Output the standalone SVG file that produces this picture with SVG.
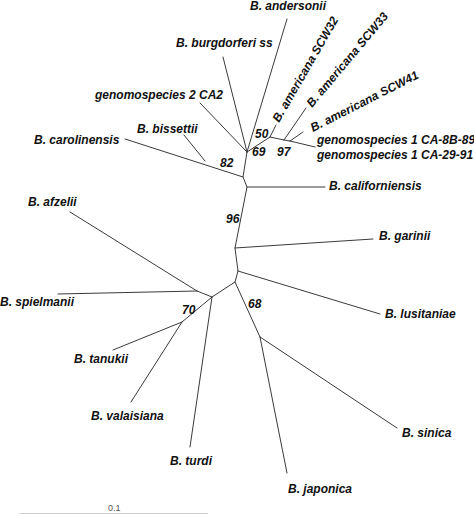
<svg xmlns="http://www.w3.org/2000/svg" width="474" height="515" viewBox="0 0 474 515">
<style>
.e{stroke:#3a3a3a;stroke-width:1;fill:none;stroke-linecap:round;stroke-linejoin:round}
.t{font-family:"Liberation Sans",Arial,sans-serif;font-size:12px;font-weight:bold;font-style:italic;fill:#111}
.b{font-family:"Liberation Sans",Arial,sans-serif;font-size:12px;font-weight:bold;font-style:italic;fill:#111}
.s{font-family:"Liberation Sans",Arial,sans-serif;font-size:9px;fill:#555}
</style>
<rect width="474" height="515" fill="#fff"/>
<g id="connectors">
<polyline class="e" points="247,152 243,177 247,187 235,248 238,271 235,282 212,297"/>
<line class="e" x1="235" y1="282" x2="260" y2="337"/>
<line class="e" x1="247" y1="152" x2="287" y2="19"/>
<line class="e" x1="247" y1="152" x2="223" y2="57"/>
<line class="e" x1="247" y1="152" x2="200" y2="103"/>
<line class="e" x1="247" y1="152" x2="270" y2="137"/>
<line class="e" x1="270" y1="137" x2="276" y2="125"/>
<line class="e" x1="270" y1="137" x2="284" y2="140"/>
<line class="e" x1="284" y1="140" x2="306" y2="108"/>
<line class="e" x1="284" y1="140" x2="290" y2="141"/>
<line class="e" x1="290" y1="141" x2="303" y2="132"/>
<line class="e" x1="290" y1="141" x2="315" y2="147"/>
<line class="e" x1="243" y1="177" x2="125" y2="139"/>
<line class="e" x1="205" y1="161" x2="184" y2="135"/>
<line class="e" x1="247" y1="187" x2="325" y2="187"/>
<line class="e" x1="235" y1="248" x2="373" y2="239"/>
<line class="e" x1="238" y1="271" x2="380" y2="314"/>
<line class="e" x1="212" y1="297" x2="197" y2="291"/>
<line class="e" x1="197" y1="291" x2="70" y2="212"/>
<line class="e" x1="197" y1="291" x2="58" y2="294"/>
<line class="e" x1="212" y1="297" x2="182" y2="322"/>
<line class="e" x1="182" y1="322" x2="113" y2="350"/>
<line class="e" x1="182" y1="322" x2="131" y2="402"/>
<line class="e" x1="212" y1="297" x2="190" y2="447"/>
<line class="e" x1="260" y1="337" x2="287" y2="473"/>
<line class="e" x1="260" y1="337" x2="397" y2="428"/>
</g>
<g id="n-andersonii"><text class="t" x="250" y="10">B. andersonii</text></g>
<g id="n-burgdorferi"><text class="t" x="176" y="47">B. burgdorferi ss</text></g>
<g id="n-genomo2"><text class="t" x="95" y="99">genomospecies 2 CA2</text></g>
<g id="n-scw32"><text class="t" transform="translate(279,123) rotate(-60)">B. americana SCW32</text></g>
<g id="n-scw33"><text class="t" transform="translate(312,108) rotate(-50)">B. americana SCW33</text></g>
<g id="n-scw41"><text class="t" transform="translate(313,132) rotate(-27)">B. americana SCW41</text></g>
<g id="n-ca8b89"><text class="t" x="317" y="144">genomospecies 1 CA-8B-89</text></g>
<g id="n-ca2991"><text class="t" x="317" y="159">genomospecies 1 CA-29-91</text></g>
<g id="n-bissettii"><text class="t" x="137" y="133">B. bissettii</text></g>
<g id="n-carolinensis"><text class="t" x="34" y="144">B. carolinensis</text></g>
<g id="n-californiensis"><text class="t" x="329" y="190">B. californiensis</text></g>
<g id="n-afzelii"><text class="t" x="28" y="206">B. afzelii</text></g>
<g id="n-garinii"><text class="t" x="379" y="240">B. garinii</text></g>
<g id="n-spielmanii"><text class="t" x="0" y="306">B. spielmanii</text></g>
<g id="n-lusitaniae"><text class="t" x="385" y="318">B. lusitaniae</text></g>
<g id="n-tanukii"><text class="t" x="74" y="363">B. tanukii</text></g>
<g id="n-valaisiana"><text class="t" x="91" y="420">B. valaisiana</text></g>
<g id="n-sinica"><text class="t" x="402" y="437">B. sinica</text></g>
<g id="n-turdi"><text class="t" x="170" y="465">B. turdi</text></g>
<g id="n-japonica"><text class="t" x="288" y="493">B. japonica</text></g>
<g id="bootstrap">
<text class="b" x="255" y="138">50</text>
<text class="b" x="252" y="156">69</text>
<text class="b" x="277" y="156">97</text>
<text class="b" x="220" y="167">82</text>
<text class="b" x="226" y="223">96</text>
<text class="b" x="182" y="314">70</text>
<text class="b" x="248" y="308">68</text>
</g>
<g id="scale">
<line x1="20" y1="513.5" x2="208" y2="513.5" stroke="#cccccc" stroke-width="1"/>
<text class="s" x="108" y="511">0.1</text>
</g>
</svg>
